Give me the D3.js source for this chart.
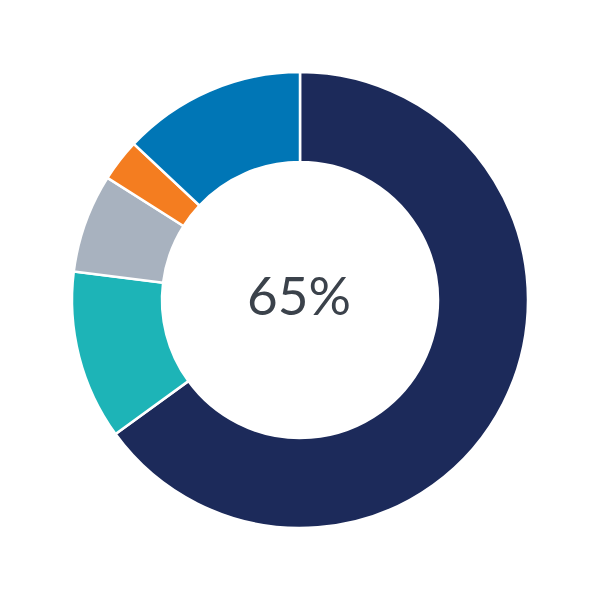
<!DOCTYPE html>
<html>
<head>
<meta charset="UTF-8">
<script src="https://cdn.jsdelivr.net/npm/d3@7"></script>
<style>
  body { margin: 0; background: #fff; }
</style>
</head>
<body>
<div id="chart"></div>
<script>
const categories = ['Navy', 'Teal', 'Gray', 'Orange', 'Blue']
const values = [65, 12, 7, 3, 13]
const colors = ['#1c2a5a', '#1db4b7', '#a8b2bf', '#f47d20', '#0076b6']
const centerLabel = '65%'

const width = 600, height = 600
const outerR = 228, innerR = 138

const svg = d3.select('#chart')
  .append('svg')
  .attr('width', width)
  .attr('height', height)
  .append('g')
  .attr('transform', 'translate(' + 300 + ',' + 300 + ')')

const color = d3.scaleOrdinal().domain(categories).range(colors)

const pie = d3.pie().sort(null).value(function (d, i) { return values[i] })
const arc = d3.arc().innerRadius(innerR).outerRadius(outerR)

svg.selectAll('path')
  .data(pie(categories))
  .enter()
  .append('path')
  .attr('d', arc)
  .attr('fill', function (d) { return color(d.data) })
  .attr('stroke', '#fff')
  .attr('stroke-width', 2.5)

// center label
svg.append('text')
  .attr('text-anchor', 'middle')
  .attr('x', -1)
  .attr('y', 15)
  .attr('font-family', 'Lato, sans-serif')
  .attr('font-size', 53)
  .attr('fill', '#3b424b')
  .text(centerLabel)
</script>
</body>
</html>
